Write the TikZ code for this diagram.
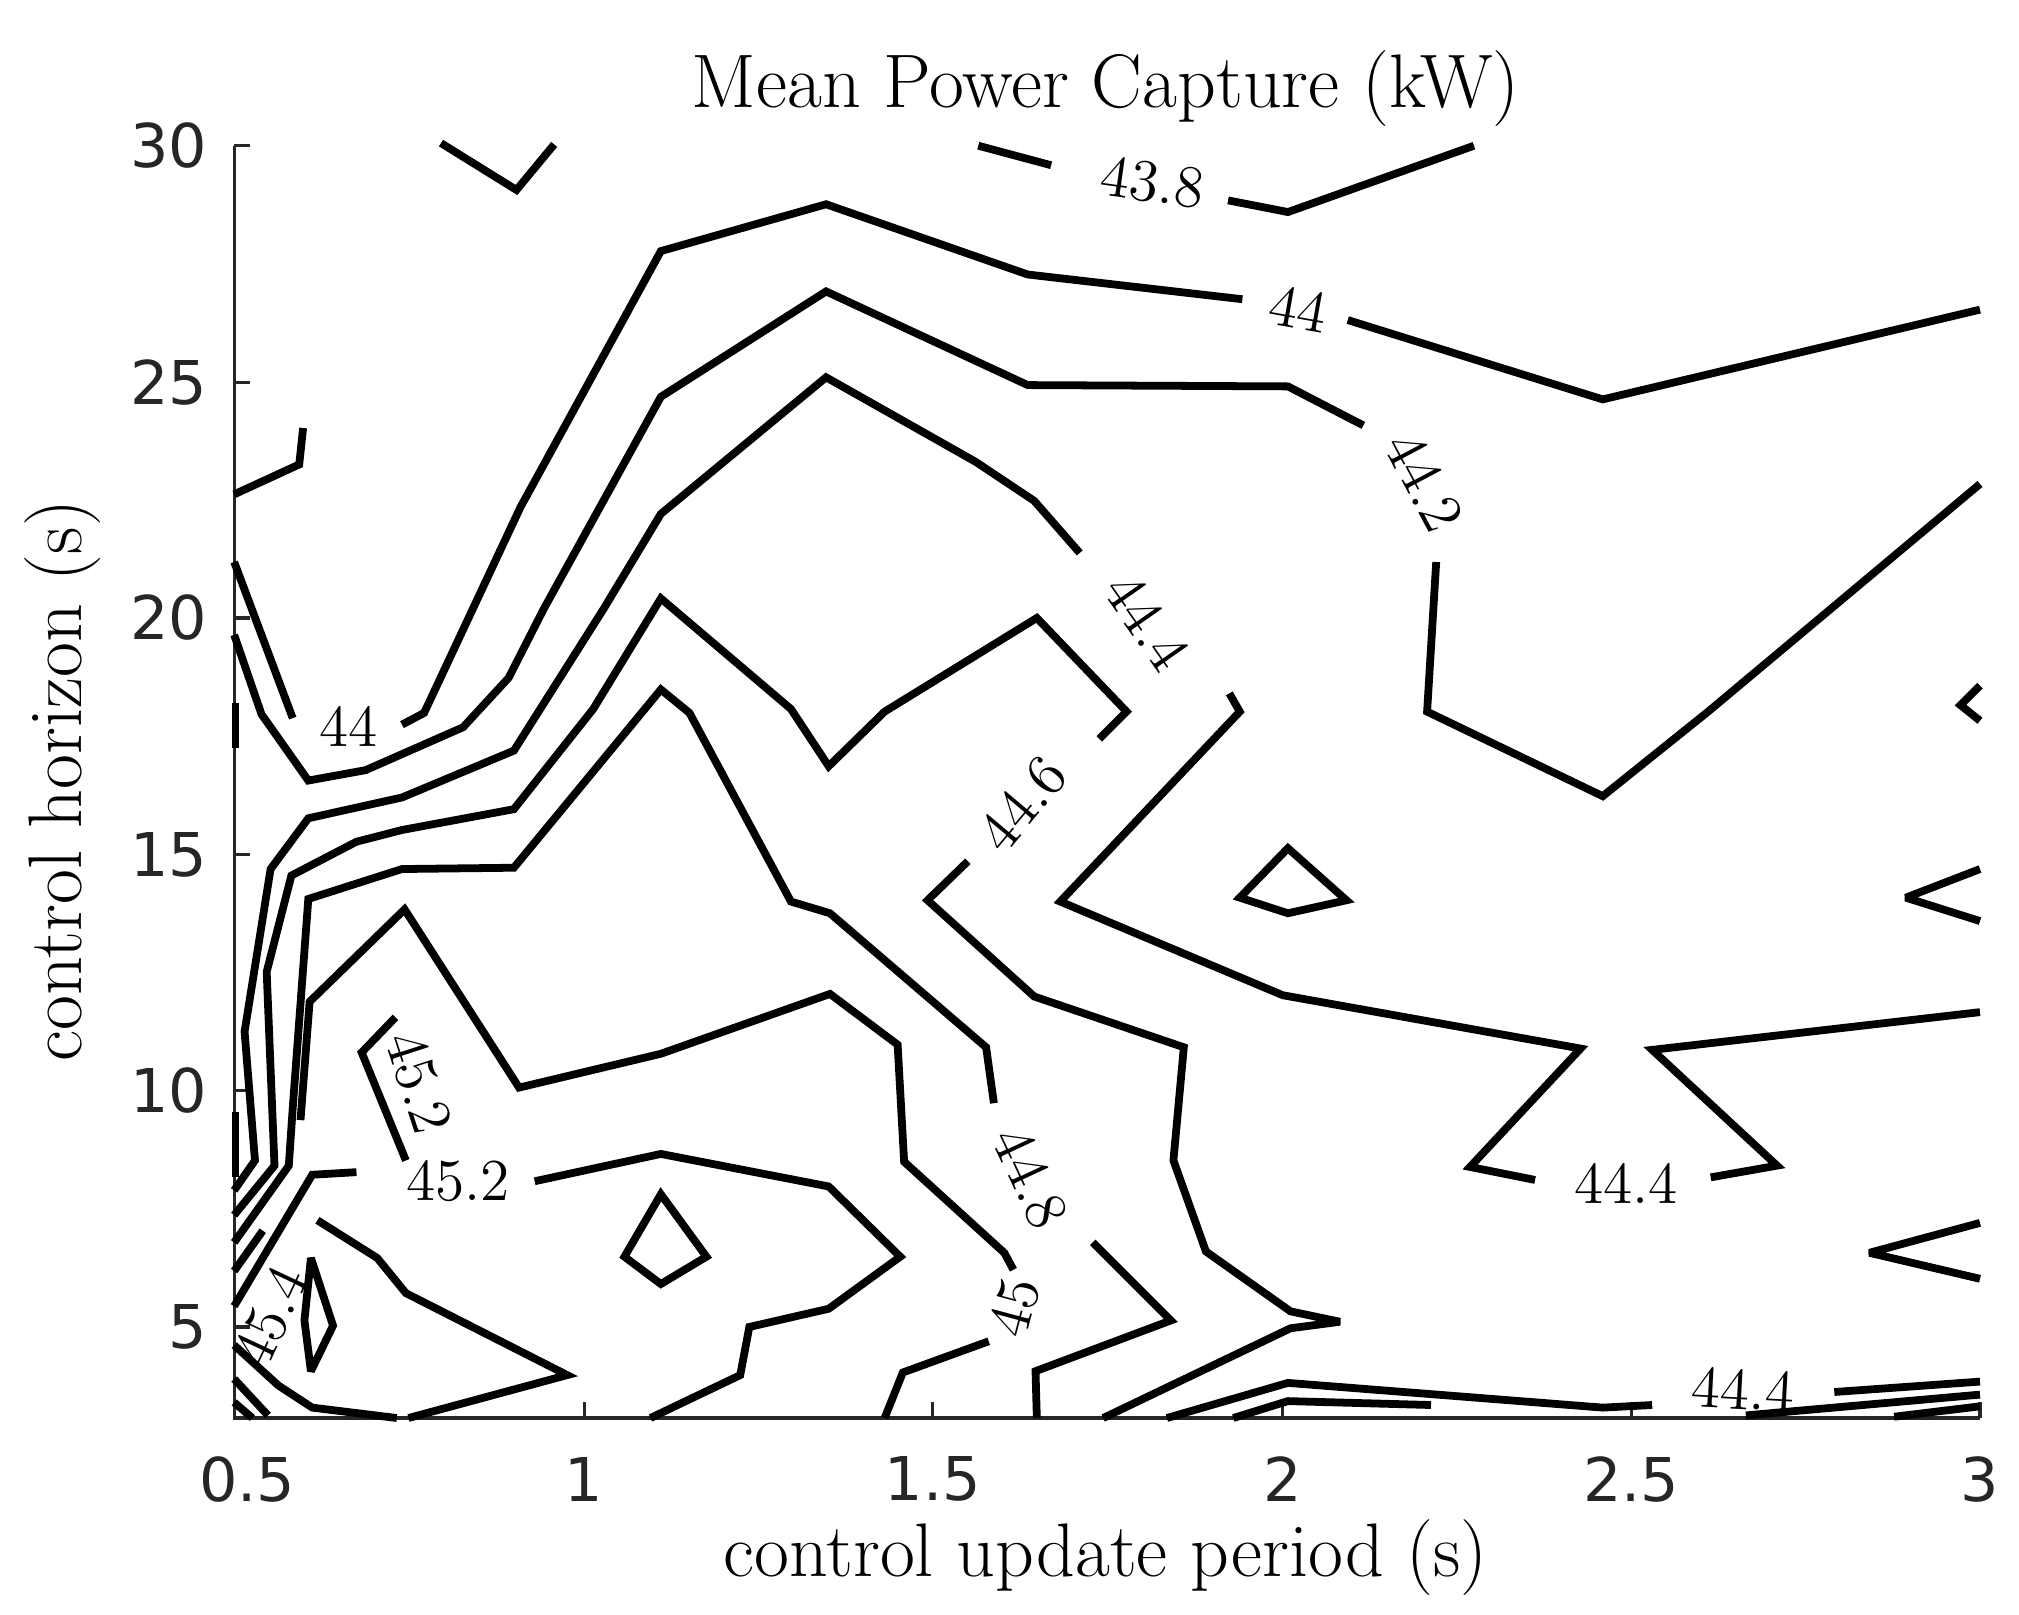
\documentclass[tikz,border=0pt]{standalone}
\usepackage{fontspec}
\newfontfamily\tickfont{DejaVu Sans}
\begin{document}
\begin{tikzpicture}[x=0.01cm,y=-0.01cm,
  cl/.style={line width=1.7pt,line join=miter,miter limit=3},
  ax/.style={line width=0.7pt,draw=axgray},
  lab/.style={font=\fontsize{13}{13}\selectfont,inner sep=0pt},
  tk/.style={font=\tickfont\fontsize{13.2}{13}\selectfont,text=axgray,inner sep=0pt},
  ttl/.style={font=\fontsize{16.6}{17}\selectfont,inner sep=0pt}]
\definecolor{axgray}{HTML}{262626}
\useasboundingbox (0,0) rectangle (1552,1241);
% axes
\draw[ax] (180,112) -- (180,1090) -- (1522,1090);
\foreach \y in {112,294,475,657,838,1020} \draw[ax] (180,\y) -- (192,\y);
\foreach \x in {449,717,986,1254,1522} \draw[ax] (\x,1090) -- (\x,1078);
\node[tk,anchor=east] (y30) at (160,112) {30};
\node[tk,anchor=east] (y25) at (160,294) {25};
\node[tk,anchor=east] (y20) at (160,475) {20};
\node[tk,anchor=east] (y15) at (160,657) {15};
\node[tk,anchor=east] (y10) at (160,838) {10};
\node[tk,anchor=east] (y5) at (160,1020) {5};
\node[tk] (x05) at (190,1137) {0.5};
\node[tk] (x1) at (449,1137) {1};
\node[tk] (x15) at (717,1137) {1.5};
\node[tk] (x2) at (986,1137) {2};
\node[tk] (x25) at (1254,1137) {2.5};
\node[tk] (x3) at (1522,1137) {3};
\node[ttl] (title) at (850,68) {Mean Power Capture (kW)};
\node[ttl] (xlab) at (850,1197) {control update period (s)};
\node[ttl,rotate=90] (ylab) at (48,600) {control horizon (s)};
% contours
\draw[cl] (339,110) -- (397,146) -- (426,111);
\draw[cl] (752,112) -- (808,127);
\draw[cl] (944,154) -- (990,163) -- (1133,112);
\draw[cl] (180,380) -- (230,357) -- (233,329);
\draw[cl] (181,540) -- (181,575);
\draw[cl] (181,855) -- (181,905);
% 44
\draw[cl] (180,432) -- (225,552);
\draw[cl] (309,557) -- (326,548) -- (400,390) -- (508,193) -- (635,157) -- (790,211) -- (955,230);
\draw[cl] (1036,246) -- (1232,307) -- (1522,238);
% 44.2
\draw[cl] (180,488) -- (201,549) -- (237,600) -- (281,592) -- (356,559) -- (391,521) -- (418,468) -- (508,305) -- (635,224) -- (790,296) -- (990,297) -- (1048,327);
\draw[cl] (1104,432) -- (1097,547) -- (1232,612) -- (1313,547) -- (1522,372);
% 44.4
\draw[cl] (180,915) -- (196,892) -- (188,793) -- (208,668) -- (237,629) -- (309,613) -- (395,577) -- (464,468) -- (508,395) -- (635,290) -- (750,355) -- (795,385) -- (830,425);
\draw[cl] (945,533) -- (953,547) -- (815,693) -- (986,765) -- (1215,806) -- (1130,897) -- (1180,907);
\draw[cl] (1315,905) -- (1366,896) -- (1270,807) -- (1522,778);
\draw[cl] (1522,527) -- (1507,542) -- (1522,554);
\draw[cl] (1522,668) -- (1465,690) -- (1522,708);
\draw[cl] (1522,940) -- (1437,963) -- (1522,983);
% 44.6
\draw[cl] (180,934) -- (211,896) -- (205,747) -- (224,673) -- (274,647) -- (309,638) -- (395,622) -- (456,545) -- (508,460) -- (608,545) -- (637,589) -- (680,547) -- (797,475) -- (866,547) -- (845,568);
\draw[cl] (744,662) -- (713,692) -- (795,766) -- (910,805) -- (902,892) -- (927,962) -- (992,1008) -- (1030,1016) -- (992,1021) -- (848,1090);
\draw[cl] (953,690) -- (990,652) -- (1035,692) -- (990,702) -- cycle;
% 44.8
\draw[cl] (180,955) -- (222,896) -- (225,852) -- (237,691) -- (309,668) -- (395,667) -- (508,530) -- (530,548) -- (608,693) -- (638,702) -- (758,805) -- (764,848);
\draw[cl] (840,955) -- (900,1015) -- (796,1054) -- (797,1090);
% 45
\draw[cl] (231,861) -- (238,770) -- (311,699) -- (399,836) -- (508,810) -- (638,764) -- (690,803) -- (695,893) -- (772,963) -- (779,976);
\draw[cl] (760,1031) -- (694,1055) -- (680,1090);
% 45.2
\draw[cl] (304,782) -- (278,809) -- (312,892);
\draw[cl] (180,1004) -- (240,903) -- (274,901);
\draw[cl] (411,908) -- (508,887) -- (637,912) -- (692,966) -- (637,1006) -- (576,1020) -- (569,1057) -- (500,1090);
\draw[cl] (480,966) -- (508,918) -- (543,966) -- (508,987) -- cycle;
% 45.4
\draw[cl] (180,977) -- (202,946);
\draw[cl] (239,967) -- (256,1019) -- (239,1054) -- (234,1015) -- cycle;
\draw[cl] (244,938) -- (290,967) -- (312,994) -- (436,1057) -- (314,1090);
\draw[cl] (180,1034) -- (214,1065) -- (240,1082) -- (305,1090);
\draw[cl] (180,1060) -- (206,1088);
\draw[cl] (180,1078) -- (194,1090);
% bottom
\draw[cl] (897,1090) -- (990,1063) -- (1232,1082) -- (1270,1080);
\draw[cl] (1410,1070) -- (1522,1062);
\draw[cl] (948,1090) -- (990,1077) -- (1100,1080);
\draw[cl] (1342,1088) -- (1522,1072);
\draw[cl] (1456,1089) -- (1522,1081);
% labels
\node[lab,rotate=-8] (l438) at (886,140) {43.8};
\node[lab,rotate=-10] (l44a) at (998,237) {44};
\node[lab] (l44b) at (268,558) {44};
\node[lab,rotate=-62] (l442) at (1095,370) {44.2};
\node[lab,rotate=-55] (l444a) at (882,478) {44.4};
\node[lab,rotate=50] (l446) at (786,618) {44.6};
\node[lab] (l444b) at (1250,910) {44.4};
\node[lab,rotate=-3] (l444c) at (1340,1068) {44.4};
\node[lab,rotate=-72] (l452a) at (322,832) {45.2};
\node[lab] (l452b) at (352,908) {45.2};
\node[lab,rotate=-65] (l448) at (792,905) {44.8};
\node[lab,rotate=75] (l45) at (780,1005) {45};
\node[lab,rotate=65] (l454) at (208,1012) {45.4};
\end{tikzpicture}
\end{document}
